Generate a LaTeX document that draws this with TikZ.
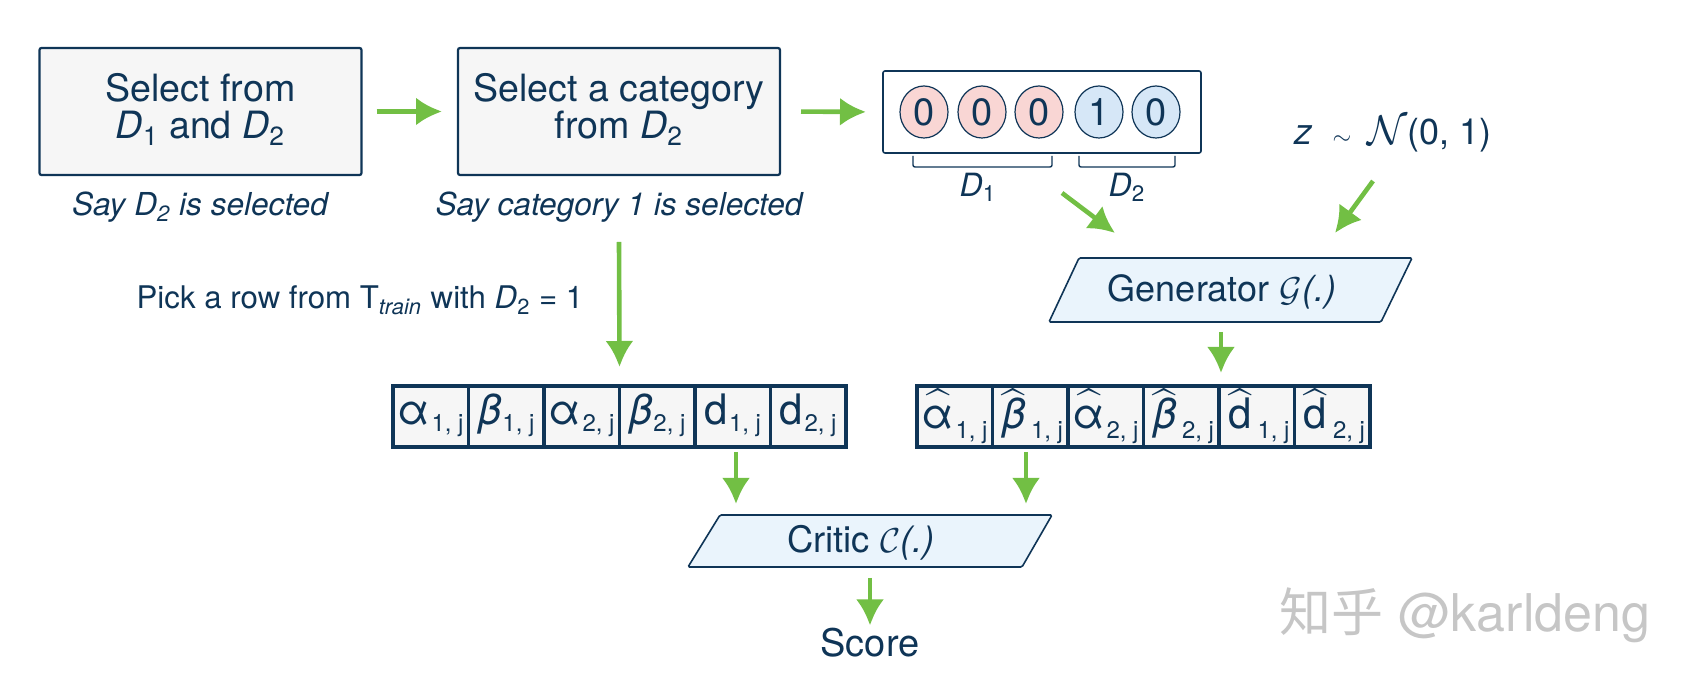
\documentclass[tikz,border=0pt]{standalone}
\usepackage{amsmath,amssymb}
\usepackage{fontspec}
\setmainfont{TeX Gyre Heros}
\newfontfamily\cjkfont{Noto Sans CJK SC}
\usepackage{xcolor}
\usetikzlibrary{arrows.meta,shapes.geometric,calc}
\definecolor{navy}{HTML}{0F3557}
\definecolor{leaf}{HTML}{72BF44}
\definecolor{boxgrey}{HTML}{F6F6F6}
\definecolor{skyfill}{HTML}{EAF4FC}
\definecolor{pinkbit}{HTML}{F9D6D4}
\definecolor{bluebit}{HTML}{D6E7F7}
\tikzset{>={Latex[length=13pt,width=14pt]}}
\tikzset{
	txt/.style={text=navy,inner sep=0pt,outer sep=0pt,align=center},
	selbox/.style={txt,draw=navy,fill=boxgrey,line width=1.1pt,rounded corners=1pt,minimum width=161pt,minimum height=63.5pt,text depth=5.5pt,font=\fontsize{18.8}{18.3}\selectfont},
	note/.style={txt,font=\fontsize{15.8}{18}\selectfont\itshape},
	bit/.style={txt,ellipse,draw=navy,line width=.6pt,minimum width=24pt,minimum height=26pt,font=\fontsize{19}{18}\selectfont},
	para/.style={draw=navy,fill=skyfill,line width=.8pt,rounded corners=.7pt},
	cell/.style={txt,rectangle,draw=navy,fill=boxgrey,line width=1.9pt,minimum width=37.75pt,minimum height=30.5pt,font=\fontsize{21}{21}\selectfont},
	realcell/.style={cell,text height=12pt,text depth=3.5pt},
	fakecell/.style={cell,text height=15pt,text depth=2.5pt},
	brace/.style={draw=navy,line width=.7pt,rounded corners=1pt},
	flow/.style={->,draw=leaf,line width=2.3pt}
}
\newcommand{\sbs}[3]{#2\raisebox{#1}{\fontsize{12}{12}\selectfont\hspace{.6pt}#3}}
\newcommand{\hatsym}[1]{\ooalign{\hfil\raisebox{2.5pt}[0pt][0pt]{$\widehat{\phantom{\text{α}}}$}\hfil\cr\hfil#1\hfil\cr}}

\begin{document}
\begin{tikzpicture}[x=0.5pt,y=-0.5pt]
	\useasboundingbox (0,0) rectangle (1692,688);
	
	% Top row of boxes
	\node[selbox] (from) at (200.5,111.5) {Select from\\\textit{D}\textsubscript{1} and \textit{D}\textsubscript{2}};
	\node[selbox] (cat) at (619,111.5) {Select a category\\from \textit{D}\textsubscript{2}};
	\node[note] (saya) at (200,207) {Say \textit{D}\textsubscript{2} is selected};
	\node[note] (sayb) at (619,207) {Say category 1 is selected};
	\node[txt,font=\fontsize{15.6}{18}\selectfont] (pick) at (360,300) {Pick a row from T\textsubscript{\textit{train}} with \textit{D}\textsubscript{2} = 1};
	
	% One-hot vector
	\node[draw=navy,fill=white,line width=.8pt,rounded corners=1pt,minimum width=159pt,minimum height=41pt,inner sep=0pt,outer sep=0pt] (vec) at (1042,112) {};
	\foreach \name/\x/\val/\col in {b1/924/0/pinkbit,b2/982/0/pinkbit,b3/1039/0/pinkbit,b4/1099/1/bluebit,b5/1156/0/bluebit}
		\node[bit,fill=\col] (\name) at (\x,112) {\val};
	\draw[brace] (913,156) |- (1052,167) -- (1052,156);
	\draw[brace] (1079,156) |- (1175,167) -- (1175,156);
	\node[txt,font=\fontsize{16}{18}\selectfont\itshape] (done) at (978,187) {D\textsubscript{\upshape 1}};
	\node[txt,font=\fontsize{16}{18}\selectfont\itshape] (dtwo) at (1127,187) {D\textsubscript{\upshape 2}};
	
	% Noise and generator
	\node[txt,font=\fontsize{18}{18}\selectfont] (noise) at (1393,134) {$\mathit{z}$\hspace{10pt}{\fontsize{12}{12}\selectfont$\sim$}\hspace{8pt}{\fontsize{20}{20}\selectfont$\mathcal{N}$}(0, 1)};
	\draw[para] (1079,258) -- (1412,258) -- (1381,322) -- (1049,322) -- cycle;
	\node[txt,font=\fontsize{18}{18}\selectfont] (gen) at (1222,292) {Generator $\mathcal{G}$\textit{(.)}};
	
	% Real and generated rows
	\foreach \i/\sym/\sub in {1/α/{1, j},2/\textit{β}/{1, j},3/α/{2, j},4/\textit{β}/{2, j},5/d/{1, j},6/d/{2, j}}{
		\node[realcell] (a\i) at ({393+75.5*(\i-.5)},416.5) {\sbs{-3.5pt}{\sym}{\sub}};
		\node[fakecell] (g\i) at ({917+75.5*(\i-.5)},416.5) {\sbs{-5pt}{\hatsym{\sym}}{\sub}};
	}
	
	% Critic and score
	\draw[para] (720,515) -- (1052,515) -- (1022,567) -- (688,567) -- cycle;
	\node[txt,font=\fontsize{18.2}{18}\selectfont] (critic) at (861,543) {Critic $\mathcal{C}$\textit{(.)}};
	\node[txt,font=\fontsize{19}{18}\selectfont] (score) at (870,643) {Score};
	
	% Arrow ends
	\coordinate (ga) at (1062,193);
	\coordinate (gb) at (1115,233);
	\coordinate (na) at (1373,181);
	\coordinate (nb) at (1335,233);
	\coordinate (gd) at (1221,332);
	\coordinate (ca) at (736,504);
	\coordinate (cb) at (1026,504);
	\coordinate (sc) at (870,578);
	\coordinate (pk) at (619,242);
	
	% Drawing the arrows
	\draw[flow,shorten <=7.5pt,shorten >=8pt] (from) -- (cat);
	\draw[flow,shorten <=10.5pt,shorten >=8.5pt] (cat.east) -- (vec.west);
	\draw[flow] (pk) -- ($(a3.north east)+(0,-19)$);
	\draw[flow] (ga) -- (gb);
	\draw[flow] (na) -- (nb);
	\draw[flow] (gd) -- ($(g5.north west)+(2,-13)$);
	\draw[flow] (a5.south -| ca) ++(0,5) -- (ca);
	\draw[flow] (g2.south -| cb) ++(0,5) -- (cb);
	\draw[flow] (sc) -- ($(score.north)+(0,-3)$);
	
	% Watermark
	\node[text=gray!45,inner sep=0pt,font=\fontsize{26}{26}\selectfont] (mark) at (1465,615) {{\cjkfont 知乎} @karldeng};
\end{tikzpicture}
\end{document}
